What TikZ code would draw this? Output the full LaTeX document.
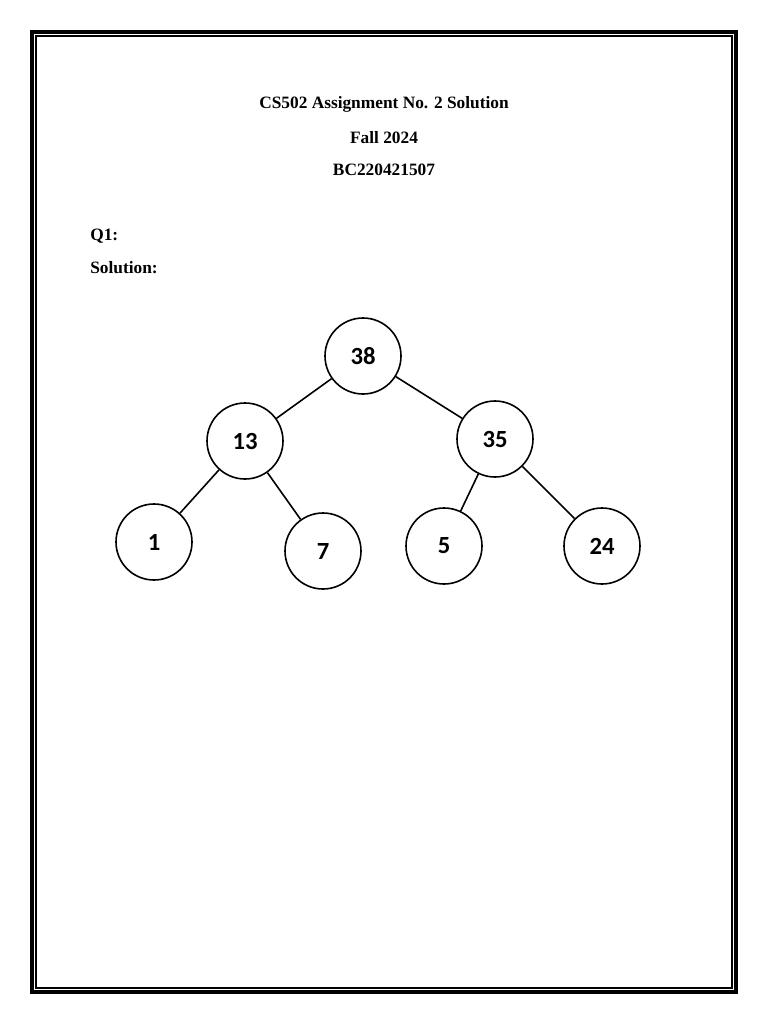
\documentclass[tikz,border=0pt]{standalone}
\usepackage{fontspec}
\setmainfont{Liberation Serif}
\newfontfamily\nodefont{Carlito}
\begin{document}
\begin{tikzpicture}[x=0.75pt,y=-0.75pt,
  tnode/.style={circle,draw,line width=1.2pt,minimum size=57pt,inner sep=0pt,font=\nodefont\bfseries\fontsize{18.5}{22}\selectfont},
  edge/.style={line width=1.2pt},
  hdr/.style={font=\bfseries\fontsize{13}{15}\selectfont,inner sep=0pt}]
\useasboundingbox (0,0) rectangle (768,1024);
\draw[line width=2.6pt] (32,32) rectangle (736,992);
\draw[line width=0.8pt] (36,36) rectangle (732,988);
\node[hdr] (t1) at (384,104) {CS502 Assignment No. 2 Solution};
\node[hdr] (t2) at (384,138) {Fall 2024};
\node[hdr] (t3) at (384,170) {BC220421507};
\node[hdr,anchor=west] (q1) at (90,236) {Q1:};
\node[hdr,anchor=west] (sol) at (90,268) {Solution:};
\node[tnode] (n38) at (363,356) {38};
\node[tnode] (n13) at (245,441) {13};
\node[tnode] (n35) at (495,439) {35};
\node[tnode] (n1) at (154,542) {1};
\node[tnode] (n7) at (323,551) {7};
\node[tnode] (n5) at (444,546) {5};
\node[tnode] (n24) at (602,546) {24};
\draw[edge] (n38)--(n13);
\draw[edge] (n38)--(n35);
\draw[edge] (n13)--(n1);
\draw[edge] (n13)--(n7);
\draw[edge] (n35)--(n5);
\draw[edge] (n35)--(n24);
\end{tikzpicture}
\end{document}
